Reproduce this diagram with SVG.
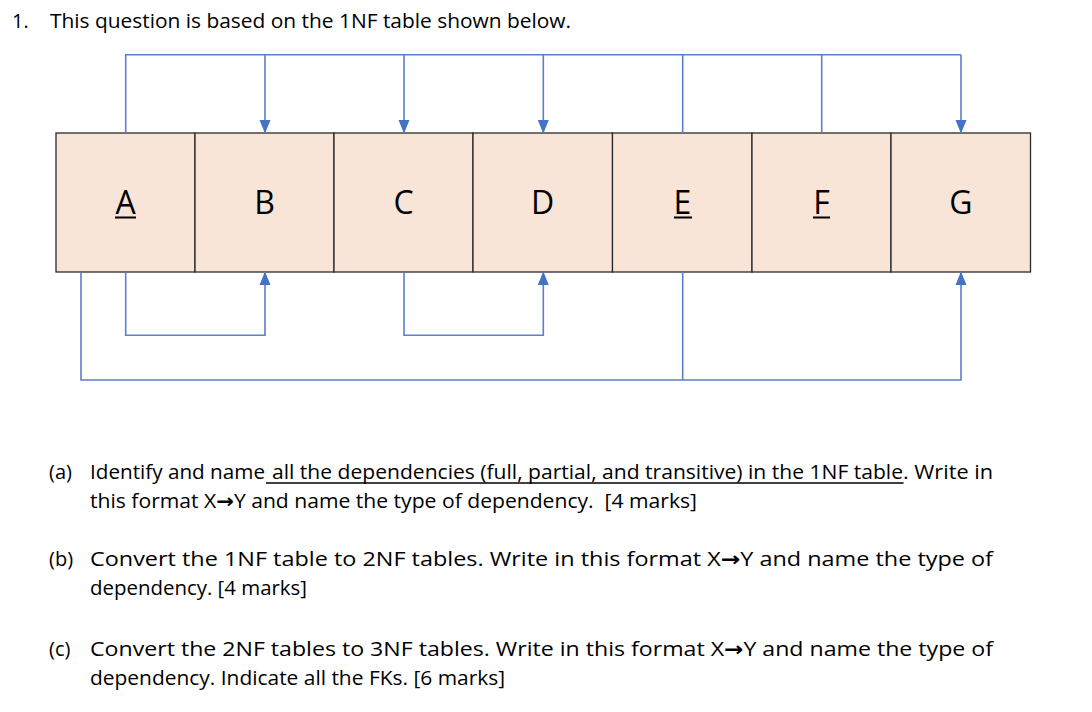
<svg xmlns="http://www.w3.org/2000/svg" width="1092" height="712" viewBox="0 0 1092 712">
<style>
.t{font-family:"Open Sans","Liberation Sans",sans-serif;font-size:20px;fill:#000}
.ar{font-family:"DejaVu Sans",sans-serif;font-weight:bold;font-size:20px}
.cell{fill:#F8E5D8;stroke:#2a2a2a;stroke-width:1.3}
.lbl{font-family:"Open Sans","Liberation Sans",sans-serif;font-size:32px;fill:#000;text-anchor:middle}
.ul{stroke:#000;stroke-width:2}
.c{fill:none;stroke:#5B7FC9;stroke-width:1.6}
</style>
<defs>
<marker id="ahd" markerUnits="userSpaceOnUse" markerWidth="14" markerHeight="12" refX="13" refY="6" orient="auto" viewBox="0 0 14 12">
<path d="M0,0.5 L13.5,6 L0,11.5 Z" fill="#4472C4"/>
</marker>
</defs>
<rect width="1092" height="712" fill="#fff"/>

<g id="title">
<text class="t" x="12" y="28">1.</text>
<text class="t" x="50" y="28" textLength="521" lengthAdjust="spacingAndGlyphs">This question is based on the 1NF table shown below.</text>
</g>

<g id="table">
<g id="cell-A"><rect class="cell" x="56" y="133" width="139" height="139"/><text class="lbl" x="125.5" y="214">A</text><line class="ul" x1="115" y1="217.5" x2="136" y2="217.5"/></g>
<g id="cell-B"><rect class="cell" x="195" y="133" width="139" height="139"/><text class="lbl" x="264.5" y="214">B</text></g>
<g id="cell-C"><rect class="cell" x="334" y="133" width="139" height="139"/><text class="lbl" x="403.5" y="214">C</text></g>
<g id="cell-D"><rect class="cell" x="473" y="133" width="139.5" height="139"/><text class="lbl" x="542.5" y="214">D</text></g>
<g id="cell-E"><rect class="cell" x="612.5" y="133" width="139.5" height="139"/><text class="lbl" x="682.5" y="214">E</text><line class="ul" x1="674" y1="217.5" x2="692" y2="217.5"/></g>
<g id="cell-F"><rect class="cell" x="752" y="133" width="139" height="139"/><text class="lbl" x="821.5" y="214">F</text><line class="ul" x1="813" y1="217.5" x2="830" y2="217.5"/></g>
<g id="cell-G"><rect class="cell" x="891" y="133" width="139.5" height="139"/><text class="lbl" x="961" y="214">G</text></g>
</g>

<g id="connectors">
<path class="c" d="M125.7,133 V54.7 H961"/>
<path class="c" d="M265,54.7 V133" marker-end="url(#ahd)"/>
<path class="c" d="M404,54.7 V133" marker-end="url(#ahd)"/>
<path class="c" d="M543.3,54.7 V133" marker-end="url(#ahd)"/>
<path class="c" d="M682.7,54.7 V133"/>
<path class="c" d="M821.7,54.7 V133"/>
<path class="c" d="M961,54.7 V133" marker-end="url(#ahd)"/>
<path class="c" d="M125.7,272 V335.3 H265 V272" marker-end="url(#ahd)"/>
<path class="c" d="M404,272 V335.3 H543.3 V272" marker-end="url(#ahd)"/>
<path class="c" d="M81,272 V380 H961 V272" marker-end="url(#ahd)"/>
<path class="c" d="M682.7,272 V380"/>
</g>

<g id="question-a">
<text class="t" x="49" y="479">(a)</text>
<text class="t" x="90" y="479" textLength="175" lengthAdjust="spacingAndGlyphs">Identify and name</text>
<text class="t" x="272" y="479" textLength="631" lengthAdjust="spacingAndGlyphs">all the dependencies (full, partial, and transitive) in the 1NF table</text>
<line x1="266" y1="483" x2="903.5" y2="483" stroke="#000" stroke-width="1.5"/>
<text class="t" x="903" y="479" textLength="90" lengthAdjust="spacingAndGlyphs">. Write in</text>
<text class="t" x="90" y="508" textLength="607" lengthAdjust="spacingAndGlyphs" style="white-space:pre">this format X<tspan class="ar">→</tspan>Y and name the type of dependency.  [4 marks]</text>
</g>

<g id="question-b">
<text class="t" x="49" y="566">(b)</text>
<text class="t" x="90" y="566" textLength="903" lengthAdjust="spacingAndGlyphs">Convert the 1NF table to 2NF tables. Write in this format X<tspan class="ar">→</tspan>Y and name the type of</text>
<text class="t" x="90" y="595" textLength="217" lengthAdjust="spacingAndGlyphs">dependency. [4 marks]</text>
</g>

<g id="question-c">
<text class="t" x="49" y="656">(c)</text>
<text class="t" x="90" y="656" textLength="903" lengthAdjust="spacingAndGlyphs">Convert the 2NF tables to 3NF tables. Write in this format X<tspan class="ar">→</tspan>Y and name the type of</text>
<text class="t" x="90" y="685" textLength="415" lengthAdjust="spacingAndGlyphs">dependency. Indicate all the FKs. [6 marks]</text>
</g>
</svg>
